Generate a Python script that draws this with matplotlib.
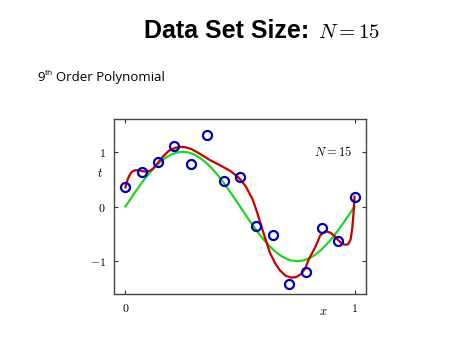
import matplotlib
matplotlib.use("Agg")
import matplotlib.pyplot as plt
import matplotlib.transforms as mtransforms

plt.rcParams['mathtext.fontset'] = 'cm'

# data points (x_n, t_n)
x_pts = [0.0, 0.071, 0.143, 0.214, 0.286, 0.357, 0.429, 0.5,
         0.571, 0.643, 0.714, 0.786, 0.857, 0.929, 1.0]
t_pts = [0.35, 0.63, 0.81, 1.10, 0.77, 1.30, 0.46, 0.54,
         -0.35, -0.52, -1.41, -1.19, -0.40, -0.63, 0.18]

# green curve (true function)
x_green = [0.0, 0.025, 0.05, 0.075, 0.1, 0.125, 0.15, 0.175, 0.2, 0.225,
           0.25, 0.275, 0.3, 0.325, 0.35, 0.375, 0.4, 0.425, 0.45, 0.475,
           0.5, 0.525, 0.55, 0.575, 0.6, 0.625, 0.65, 0.675, 0.7, 0.725,
           0.75, 0.775, 0.8, 0.825, 0.85, 0.875, 0.9, 0.925, 0.95, 0.975, 1.0]
y_green = [0.0, 0.156, 0.309, 0.454, 0.588, 0.707, 0.809, 0.891, 0.951, 0.988,
           1.0, 0.988, 0.951, 0.891, 0.809, 0.707, 0.588, 0.454, 0.309, 0.156,
           0.0, -0.156, -0.309, -0.454, -0.588, -0.707, -0.809, -0.891, -0.951, -0.988,
           -1.0, -0.988, -0.951, -0.891, -0.809, -0.707, -0.588, -0.454, -0.309, -0.156, 0.0]

# red curve (9th order fit)
x_red = [0.0, 0.005, 0.01, 0.02, 0.03, 0.045, 0.06, 0.075, 0.09, 0.105,
         0.12, 0.14, 0.165, 0.19, 0.215, 0.24, 0.26, 0.285, 0.31, 0.33,
         0.37, 0.415, 0.46, 0.495, 0.525, 0.555, 0.575, 0.60, 0.63, 0.655,
         0.675, 0.70, 0.725, 0.745, 0.765, 0.785, 0.80, 0.815, 0.83, 0.85,
         0.873, 0.895, 0.91, 0.925, 0.945, 0.96, 0.972, 0.983, 0.99, 0.995, 1.0]
y_red = [0.35, 0.43, 0.50, 0.59, 0.64, 0.665, 0.66, 0.645, 0.64, 0.65,
         0.69, 0.79, 0.92, 1.02, 1.07, 1.09, 1.085, 1.055, 1.0, 0.95,
         0.846, 0.75, 0.645, 0.525, 0.37, 0.13, -0.11, -0.45, -0.84, -1.05,
         -1.17, -1.27, -1.30, -1.29, -1.24, -1.13, -0.97, -0.85, -0.73, -0.53,
         -0.45, -0.48, -0.53, -0.60, -0.68, -0.70, -0.69, -0.60, -0.40, -0.15, 0.18]

fig = plt.figure(figsize=(4.74, 3.55), dpi=100)
ax = fig.add_axes([114/474, 1 - 294/355, 252/474, 175/355])

ax.plot(x_green, y_green, color='#22d422', lw=1.6)
ax.plot(x_red, y_red, color='#c80000', lw=1.6)
ax.plot(x_pts, t_pts, 'o', mfc='none', mec='#0000b4', ms=6.5, mew=1.6)

ax.set_xlim(-0.05, 1.05)
ax.set_ylim(-1.6, 1.6)
ax.set_xticks([0, 1])
ax.set_xticklabels(['$0$', '$1$'])
ax.set_yticks([-1, 0, 1])
ax.set_yticklabels(['$-1$', '$0$', '$1$'])
ax.tick_params(direction='in', length=3, width=0.8, labelsize=8.5, pad=6,
               top=True, right=True, colors='#333333', labelcolor='black')
for s in ax.spines.values():
    s.set_color('#444444')
    s.set_linewidth(1.0)

ax.text(0.908, 0.99, '$N = 15$', ha='center', va='center', fontsize=9)

tx = mtransforms.blended_transform_factory(ax.transData, ax.transAxes)
ax.text(0.865, -0.1, '$x$', transform=tx, ha='center', va='center', fontsize=9)
ty = mtransforms.blended_transform_factory(ax.transAxes, ax.transData)
ax.text(-0.056, 0.6, '$t$', transform=ty, ha='center', va='center', fontsize=9)

fig.text(144/474, 1 - 37.7/355, 'Data Set Size:', fontsize=18,
         fontweight='bold', family='Liberation Sans', ha='left', va='baseline')
fig.text(318/474, 1 - 37.7/355, '$N = 15$', fontsize=15,
         ha='left', va='baseline')

fig.text(37/474, 1 - 80.7/355, '9', fontsize=9.5, family='Open Sans',
         ha='left', va='baseline')
fig.text(44.5/474, 1 - 75/355, 'th', fontsize=6, family='Open Sans',
         ha='left', va='baseline')
fig.text(56.5/474, 1 - 80.7/355, 'Order Polynomial', fontsize=9.5,
         family='Open Sans', ha='left', va='baseline')

fig.savefig('out.png', dpi=100)
